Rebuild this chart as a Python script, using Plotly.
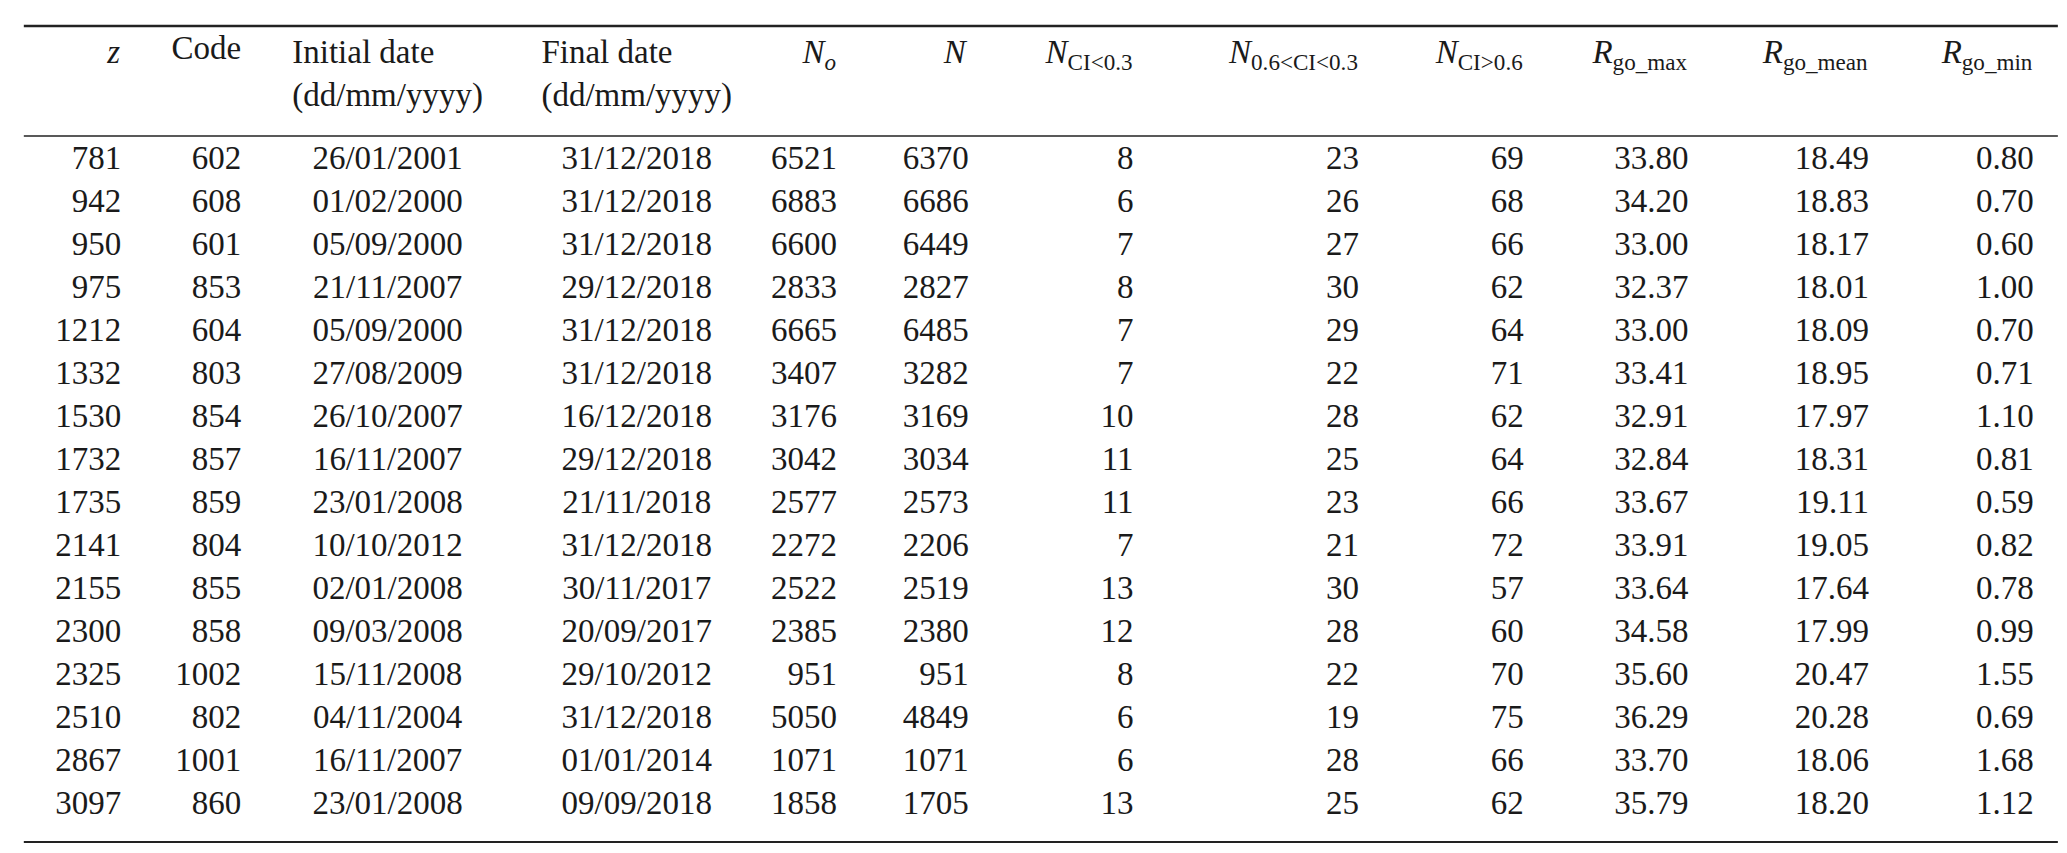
import plotly.graph_objects as go

z = [781, 942, 950, 975, 1212, 1332, 1530, 1732, 1735, 2141, 2155, 2300, 2325, 2510, 2867, 3097]
code = [602, 608, 601, 853, 604, 803, 854, 857, 859, 804, 855, 858, 1002, 802, 1001, 860]
initial = ["26/01/2001", "01/02/2000", "05/09/2000", "21/11/2007", "05/09/2000", "27/08/2009", "26/10/2007",
           "16/11/2007", "23/01/2008", "10/10/2012", "02/01/2008", "09/03/2008", "15/11/2008", "04/11/2004",
           "16/11/2007", "23/01/2008"]
final = ["31/12/2018", "31/12/2018", "31/12/2018", "29/12/2018", "31/12/2018", "31/12/2018", "16/12/2018",
         "29/12/2018", "21/11/2018", "31/12/2018", "30/11/2017", "20/09/2017", "29/10/2012", "31/12/2018",
         "01/01/2014", "09/09/2018"]
n_o = [6521, 6883, 6600, 2833, 6665, 3407, 3176, 3042, 2577, 2272, 2522, 2385, 951, 5050, 1071, 1858]
n = [6370, 6686, 6449, 2827, 6485, 3282, 3169, 3034, 2573, 2206, 2519, 2380, 951, 4849, 1071, 1705]
n_low = [8, 6, 7, 8, 7, 7, 10, 11, 11, 7, 13, 12, 8, 6, 6, 13]
n_mid = [23, 26, 27, 30, 29, 22, 28, 25, 23, 21, 30, 28, 22, 19, 28, 25]
n_high = [69, 68, 66, 62, 64, 71, 62, 64, 66, 72, 57, 60, 70, 75, 66, 62]
r_max = ["33.80", "34.20", "33.00", "32.37", "33.00", "33.41", "32.91", "32.84", "33.67", "33.91", "33.64",
         "34.58", "35.60", "36.29", "33.70", "35.79"]
r_mean = ["18.49", "18.83", "18.17", "18.01", "18.09", "18.95", "17.97", "18.31", "19.11", "19.05", "17.64",
          "17.99", "20.47", "20.28", "18.06", "18.20"]
r_min = ["0.80", "0.70", "0.60", "1.00", "0.70", "0.71", "1.10", "0.81", "0.59", "0.82", "0.78", "0.99",
         "1.55", "0.69", "1.68", "1.12"]

headers = ["<i>z</i>", "Code", "Initial date<br>(dd/mm/yyyy)", "Final date<br>(dd/mm/yyyy)",
           "<i>N<sub>o</sub></i>", "<i>N</i>", "<i>N</i><sub>CI<0.3</sub>", "<i>N</i><sub>0.6<CI<0.3</sub>",
           "<i>N</i><sub>CI>0.6</sub>", "<i>R</i><sub>go_max</sub>", "<i>R</i><sub>go_mean</sub>",
           "<i>R</i><sub>go_min</sub>"]
columns = [z, code, initial, final, n_o, n, n_low, n_mid, n_high, r_max, r_mean, r_min]

S = 2067 / 1568
bounds = [12, 92, 183, 393, 561, 635, 735, 860, 1031, 1156, 1281, 1418, 1543]
widths = [bounds[i + 1] - bounds[i] for i in range(len(bounds) - 1)]
aligns = ["right", "right", "center", "center"] + ["right"] * 8

W, H = 2067, 853
top, hline, bottom = 18, 128, 834
x0, x1 = 12 * S, 1555 * S
font = dict(family="Liberation Serif, Times New Roman, serif", size=33, color="#1a1a1a")

fig = go.Figure(go.Table(
    domain=dict(x=[x0 / W, (bounds[-1] * S) / W], y=[0, 1 - top / H]),
    columnwidth=widths,
    header=dict(values=headers, align=aligns, font=font, height=hline - top,
                fill_color="white", line_color="rgba(0,0,0,0)"),
    cells=dict(values=columns, align=aligns, font=font, height=43,
               fill_color="white", line_color="rgba(0,0,0,0)"),
))
for y, w in [(top, 2.5), (hline, 1.5), (bottom, 2)]:
    fig.add_shape(type="line", xref="paper", yref="paper", x0=x0 / W, x1=x1 / W,
                  y0=1 - y / H, y1=1 - y / H, line=dict(color="#222", width=w))
fig.update_layout(width=W, height=H, margin=dict(l=0, r=0, t=0, b=0),
                  paper_bgcolor="white", plot_bgcolor="white")
fig.write_html("out.html")
